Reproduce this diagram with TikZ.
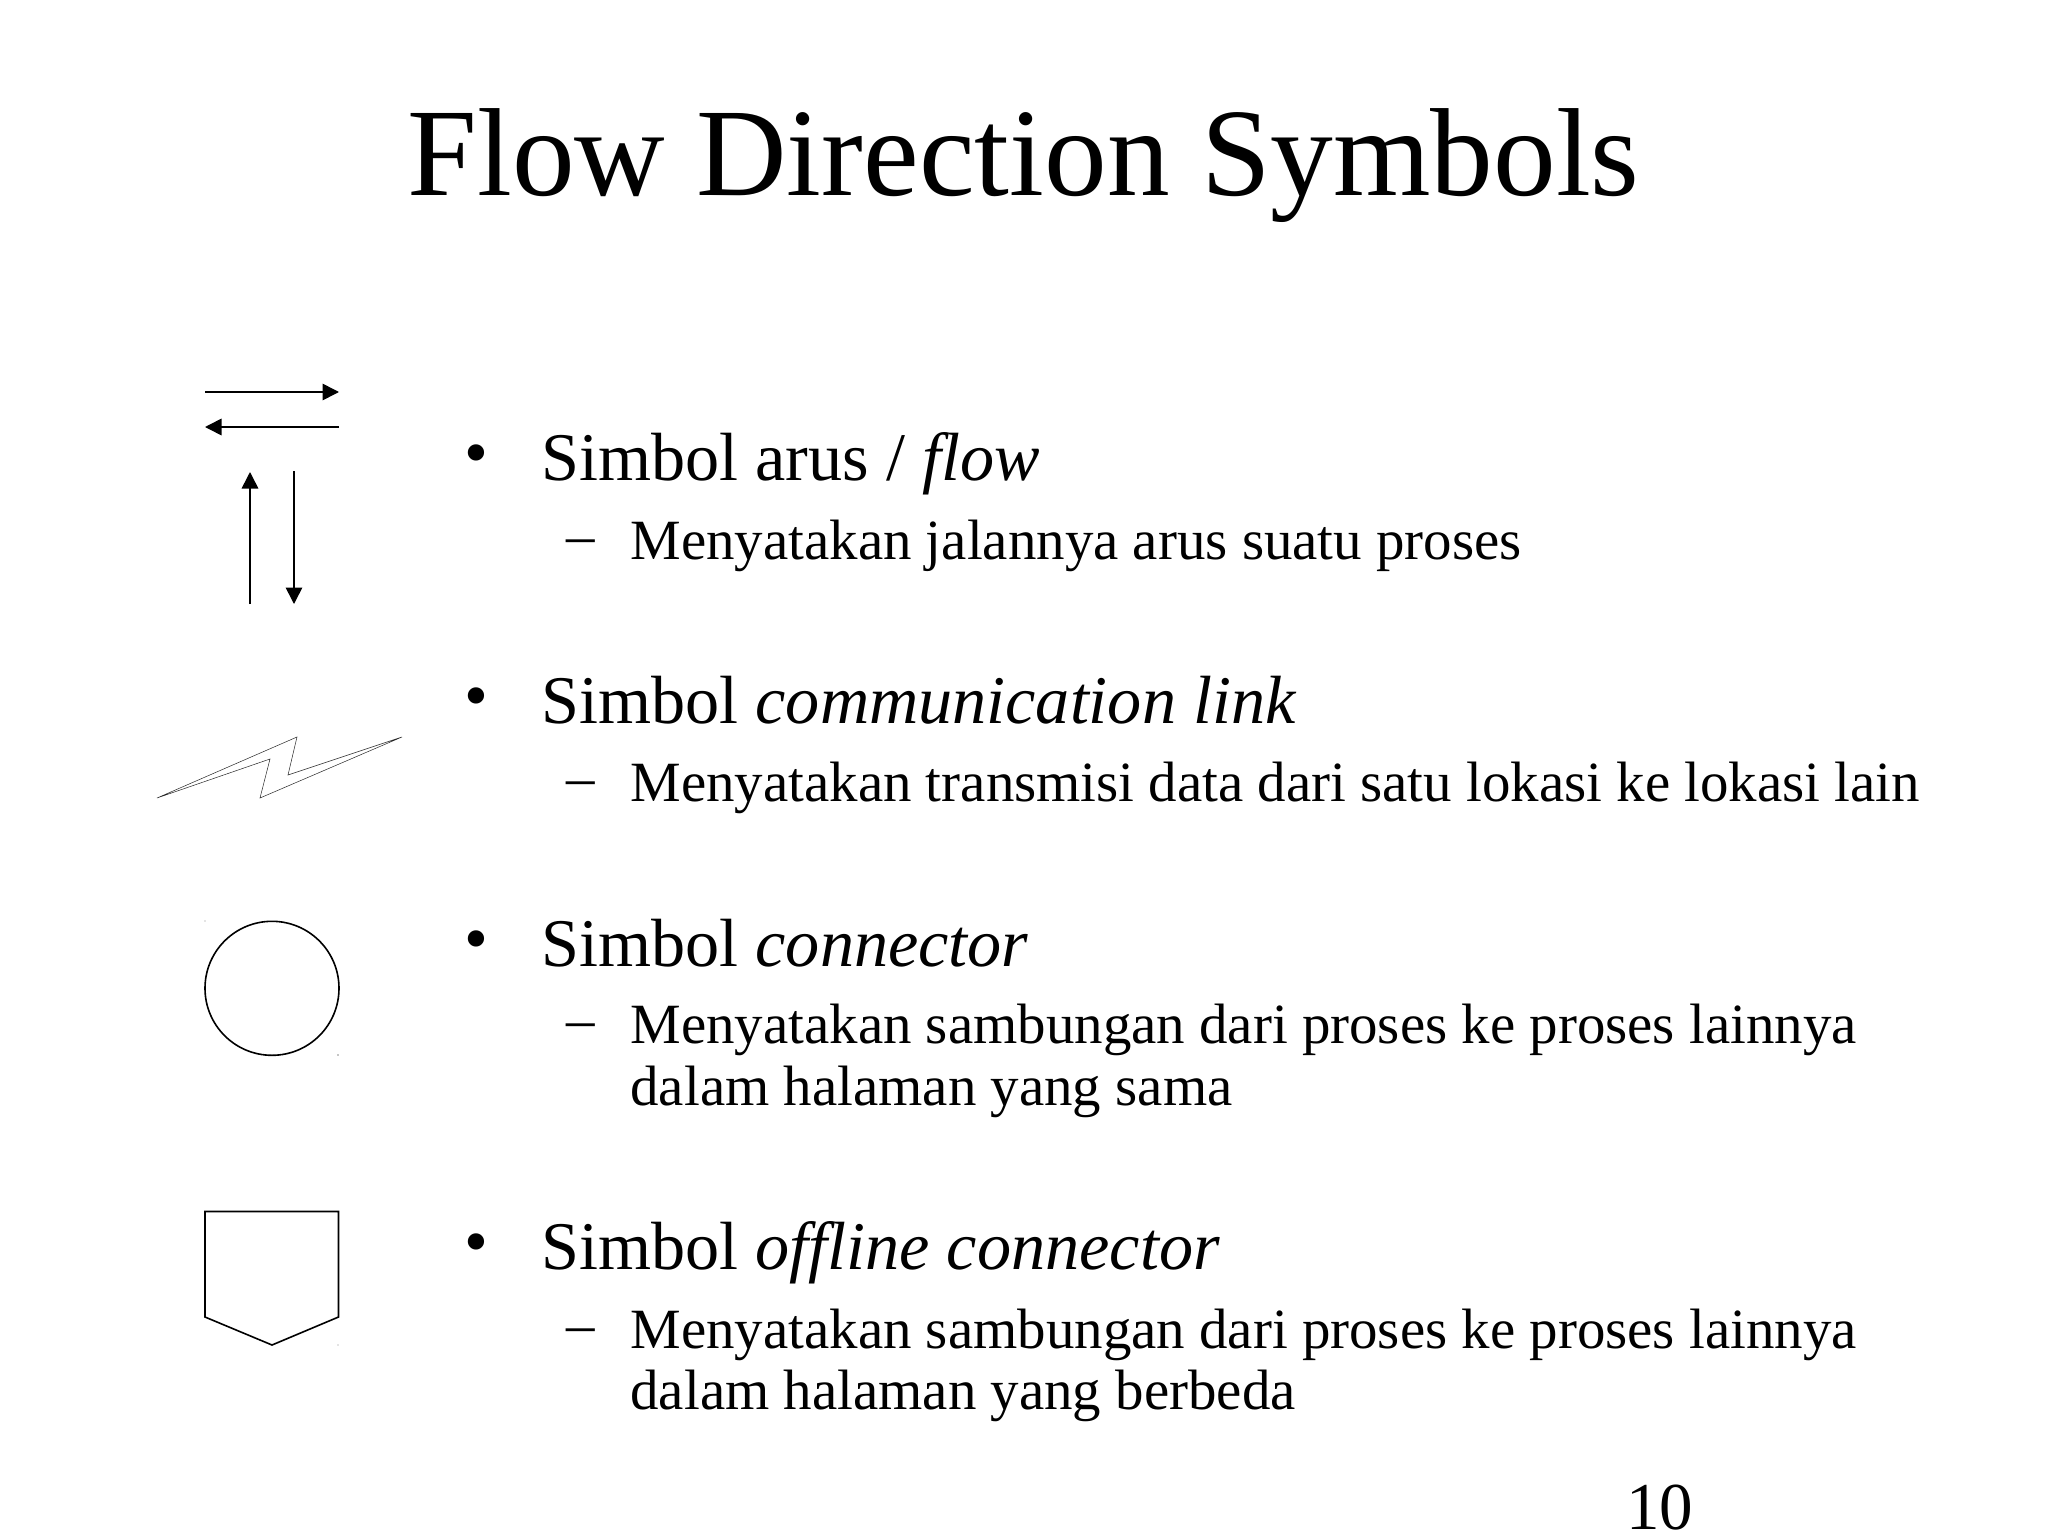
\documentclass[tikz,border=0pt]{standalone}
\usepackage{fontspec}
\setmainfont{Liberation Serif}
\usetikzlibrary{arrows.meta}
\newcommand{\fs}[1]{\fontsize{#1}{#1}\selectfont}
\newcommand{\subdash}{\raisebox{5pt}{–}}
\newcommand{\bul}{\raisebox{4.5pt}{•}}
\tikzset{
  txt/.style={anchor=base west,inner sep=0pt,outer sep=0pt,text=black},
  titletext/.style={txt,font=\fs{125.3}},
  lvlone/.style={txt,font=\fs{68.2}},
  lvltwo/.style={txt,font=\fs{56.9}},
  pagenum/.style={txt,font=\fs{67}},
  flowline/.style={line width=1.6pt,-{Triangle[length=16.5pt,width=16.5pt]},black},
  sym/.style={line width=1.6pt,black},
  bolt/.style={line width=0.5pt,black!85},
  speck/.style={fill=black!45,draw=none}
}
\begin{document}
\begin{tikzpicture}[x=1pt,y=-1pt]
\useasboundingbox[fill=white] (0,0) rectangle (2048,1536);
\node[titletext] (title) at (407.5,195) {Flow Direction Symbols};
% flow
\coordinate (a1) at (205,392); \coordinate (a2) at (339,392);
\coordinate (b1) at (339,427); \coordinate (b2) at (205,427);
\coordinate (c1) at (250,604); \coordinate (c2) at (250,472);
\coordinate (d1) at (294,471); \coordinate (d2) at (294,604);
\draw[flowline] (a1) -- (a2);
\draw[flowline] (b1) -- (b2);
\draw[flowline] (c1) -- (c2);
\draw[flowline] (d1) -- (d2);
% bolt
\draw[bolt] (157,798) -- (297,737) -- (288,775) -- (402,737) -- (260,798) -- (270,759) -- cycle;
% connector
\draw[sym] (272,988.3) circle (67);
% offline
\draw[sym] (205,1211.5) -- (338.5,1211.5) -- (338.5,1317) -- (272,1345) -- (205,1317) -- cycle;
\fill[speck] (205,921) circle (0.7) (338,1055) circle (0.9) (338,1345) circle (0.7);
% text
\node[lvlone] (b1t) at (464,480) {\bul};
\node[lvlone] (t1) at (541.5,480) {Simbol arus / \textit{flow}};
\node[lvltwo] (d1t) at (566,559) {\subdash};
\node[lvltwo] (s1) at (630.5,559) {Menyatakan jalannya arus suatu proses};
\node[lvlone] (b2t) at (464,723) {\bul};
\node[lvlone] (t2) at (541.5,723) {Simbol \textit{communication link}};
\node[lvltwo] (d2t) at (566,801.5) {\subdash};
\node[lvltwo] (s2) at (630.5,801.5) {Menyatakan transmisi data dari satu lokasi ke lokasi lain};
\node[lvlone] (b3t) at (464,966) {\bul};
\node[lvlone] (t3) at (541.5,966) {Simbol \textit{connector}};
\node[lvltwo] (d3t) at (566,1043.5) {\subdash};
\node[lvltwo] (s3) at (630.5,1043.5) {Menyatakan sambungan dari proses ke proses lainnya};
\node[lvltwo] (s3b) at (630.5,1105) {dalam halaman yang sama};
\node[lvlone] (b4t) at (464,1269) {\bul};
\node[lvlone] (t4) at (541.5,1269) {Simbol \textit{offline connector}};
\node[lvltwo] (d4t) at (566,1348) {\subdash};
\node[lvltwo] (s4) at (630.5,1348) {Menyatakan sambungan dari proses ke proses lainnya};
\node[lvltwo] (s4b) at (630.5,1409) {dalam halaman yang berbeda};
\node[pagenum] (pg) at (1626,1529) {\smash{10}};
\end{tikzpicture}
\end{document}
